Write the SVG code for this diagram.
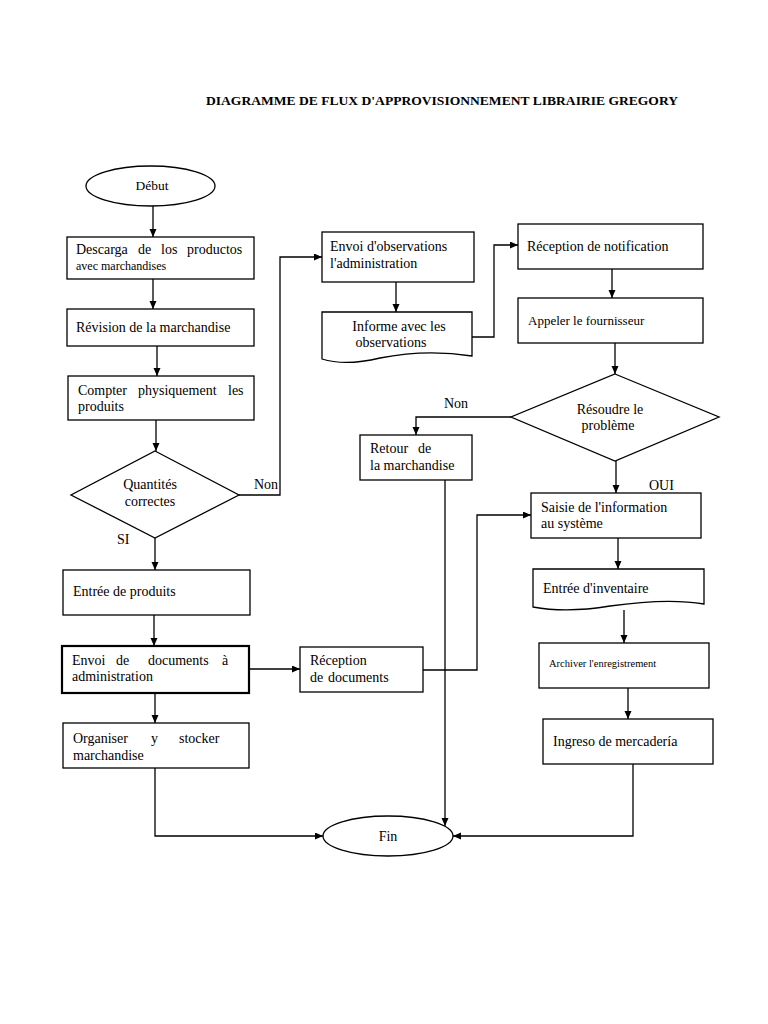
<svg xmlns="http://www.w3.org/2000/svg" width="768" height="1024" viewBox="0 0 768 1024">
<style>
text{font-family:"Liberation Serif","Times New Roman",serif;font-size:14px;fill:#000}
text.s13{font-size:13px}
text.s135{font-size:13.5px}
text.s12{font-size:12px}
text.s10{font-size:10.5px}
text.title{font-size:13.5px;font-weight:bold}
.box{fill:#fff;stroke:#000;stroke-width:1.3}
.thick{stroke-width:2.2}
.c{fill:none;stroke:#000;stroke-width:1.3}
.m{text-anchor:middle}
</style>
<defs>
<marker id="ah" markerUnits="userSpaceOnUse" markerWidth="9" markerHeight="8" refX="8" refY="3.5" orient="auto">
<path d="M0,0 L8,3.5 L0,7 z" fill="#000"/>
</marker>
</defs>
<rect width="768" height="1024" fill="#fff"/>
<text class="title" x="206" y="105" textLength="472" lengthAdjust="spacingAndGlyphs">DIAGRAMME DE FLUX D'APPROVISIONNEMENT LIBRAIRIE GREGORY</text>

<g id="connectors">
<path class="c" d="M153,206 V237" marker-end="url(#ah)"/>
<path class="c" d="M153,279 V309" marker-end="url(#ah)"/>
<path class="c" d="M157,346 V376" marker-end="url(#ah)"/>
<path class="c" d="M156,420 V451" marker-end="url(#ah)"/>
<path class="c" d="M239,495 H280 V257 H322" marker-end="url(#ah)"/>
<path class="c" d="M155,538 V570" marker-end="url(#ah)"/>
<path class="c" d="M154,615 V646" marker-end="url(#ah)"/>
<path class="c" d="M249,669 H300" marker-end="url(#ah)"/>
<path class="c" d="M155,693 V723" marker-end="url(#ah)"/>
<path class="c" d="M155,768 V836 H323" marker-end="url(#ah)"/>
<path class="c" d="M423,670 H477 V515 H531" marker-end="url(#ah)"/>
<path class="c" d="M396,282 V312" marker-end="url(#ah)"/>
<path class="c" d="M472,337 H494 V245 H518" marker-end="url(#ah)"/>
<path class="c" d="M612,269 V298" marker-end="url(#ah)"/>
<path class="c" d="M615,343 V374" marker-end="url(#ah)"/>
<path class="c" d="M511,417 H416 V435" marker-end="url(#ah)"/>
<path class="c" d="M616,461 V493" marker-end="url(#ah)"/>
<path class="c" d="M445,480 V826" marker-end="url(#ah)"/>
<path class="c" d="M618,538 V569" marker-end="url(#ah)"/>
<path class="c" d="M624,610 V643" marker-end="url(#ah)"/>
<path class="c" d="M628,688 V719" marker-end="url(#ah)"/>
<path class="c" d="M633,764 V836 H453" marker-end="url(#ah)"/>
</g>

<g id="debut">
<ellipse class="box" cx="150.5" cy="186" rx="64.5" ry="20"/>
<text x="152" y="190" class="m s135">Début</text>
</g>

<g id="descarga">
<rect class="box" x="67" y="237" width="187" height="42"/>
<text y="254"><tspan x="76">Descarga</tspan><tspan x="138">de</tspan><tspan x="161">los</tspan><tspan x="187">productos</tspan></text>
<text x="76" y="270" class="s12">avec marchandises</text>
</g>

<g id="revision">
<rect class="box" x="67" y="309" width="187" height="37"/>
<text x="76" y="332">Révision de la marchandise</text>
</g>

<g id="compter">
<rect class="box" x="68" y="376" width="186" height="44"/>
<text y="395"><tspan x="78">Compter</tspan><tspan x="138">physiquement</tspan><tspan x="228">les</tspan></text>
<text x="78" y="411">produits</text>
</g>

<g id="quantites">
<polygon class="box" points="155,451 239,495 155,538 71,495"/>
<text x="150" y="489" class="m">Quantités</text>
<text x="150" y="506" class="m">correctes</text>
</g>
<text x="254" y="489">Non</text>
<text x="117" y="544">SI</text>

<g id="entree-produits">
<rect class="box" x="63" y="570" width="187" height="45"/>
<text x="73" y="596">Entrée de produits</text>
</g>

<g id="envoi-documents">
<rect class="box thick" x="62" y="646" width="187" height="47"/>
<text y="665"><tspan x="72">Envoi</tspan><tspan x="116">de</tspan><tspan x="148">documents</tspan><tspan x="222">à</tspan></text>
<text x="72" y="681">administration</text>
</g>

<g id="reception-documents">
<rect class="box" x="300" y="647" width="123" height="45"/>
<text x="310" y="665">Réception</text>
<text y="682"><tspan x="310">de</tspan><tspan x="328">documents</tspan></text>
</g>

<g id="organiser">
<rect class="box" x="63" y="723" width="186" height="45"/>
<text y="743"><tspan x="73">Organiser</tspan><tspan x="151">y</tspan><tspan x="179">stocker</tspan></text>
<text x="73" y="760">marchandise</text>
</g>

<g id="fin">
<ellipse class="box" cx="388" cy="836" rx="65" ry="20"/>
<text x="388" y="841" class="m">Fin</text>
</g>

<g id="envoi-observations">
<rect class="box" x="322" y="232" width="152" height="50"/>
<text x="330" y="251">Envoi d'observations</text>
<text x="330" y="268">l'administration</text>
</g>

<g id="informe">
<path class="box" d="M322,312 H472 V356 C440,351 410,352 380,358 C355,364 338,364 322,359 Z"/>
<text x="399" y="331" class="m">Informe avec les</text>
<text x="391" y="347" class="m">observations</text>
</g>

<g id="reception-notification">
<rect class="box" x="518" y="224" width="185" height="45"/>
<text x="527" y="251">Réception de notification</text>
</g>

<g id="appeler">
<rect class="box" x="518" y="298" width="185" height="45"/>
<text x="528" y="325" class="s13">Appeler le fournisseur</text>
</g>

<g id="resoudre">
<polygon class="box" points="615,374 719,417 615,461 511,417"/>
<text x="610" y="414" class="m">Résoudre le</text>
<text x="608" y="430" class="m">problème</text>
</g>
<text x="444" y="408">Non</text>
<text x="649" y="490">OUI</text>

<g id="retour">
<rect class="box" x="360" y="435" width="112" height="45"/>
<text y="453"><tspan x="370">Retour</tspan><tspan x="418">de</tspan></text>
<text x="370" y="470">la marchandise</text>
</g>

<g id="saisie">
<rect class="box" x="531" y="493" width="170" height="45"/>
<text x="541" y="512">Saisie de l'information</text>
<text x="541" y="528">au système</text>
</g>

<g id="entree-inventaire">
<path class="box" d="M533,569 H704 V604 C675,599 645,601 610,606 C580,611 555,611 533,607 Z"/>
<text x="543" y="593">Entrée d'inventaire</text>
</g>

<g id="archiver">
<rect class="box" x="539" y="643" width="170" height="45"/>
<text x="549" y="667" class="s10">Archiver l'enregistrement</text>
</g>

<g id="ingreso">
<rect class="box" x="543" y="719" width="170" height="45"/>
<text x="553" y="746">Ingreso de mercadería</text>
</g>
</svg>
